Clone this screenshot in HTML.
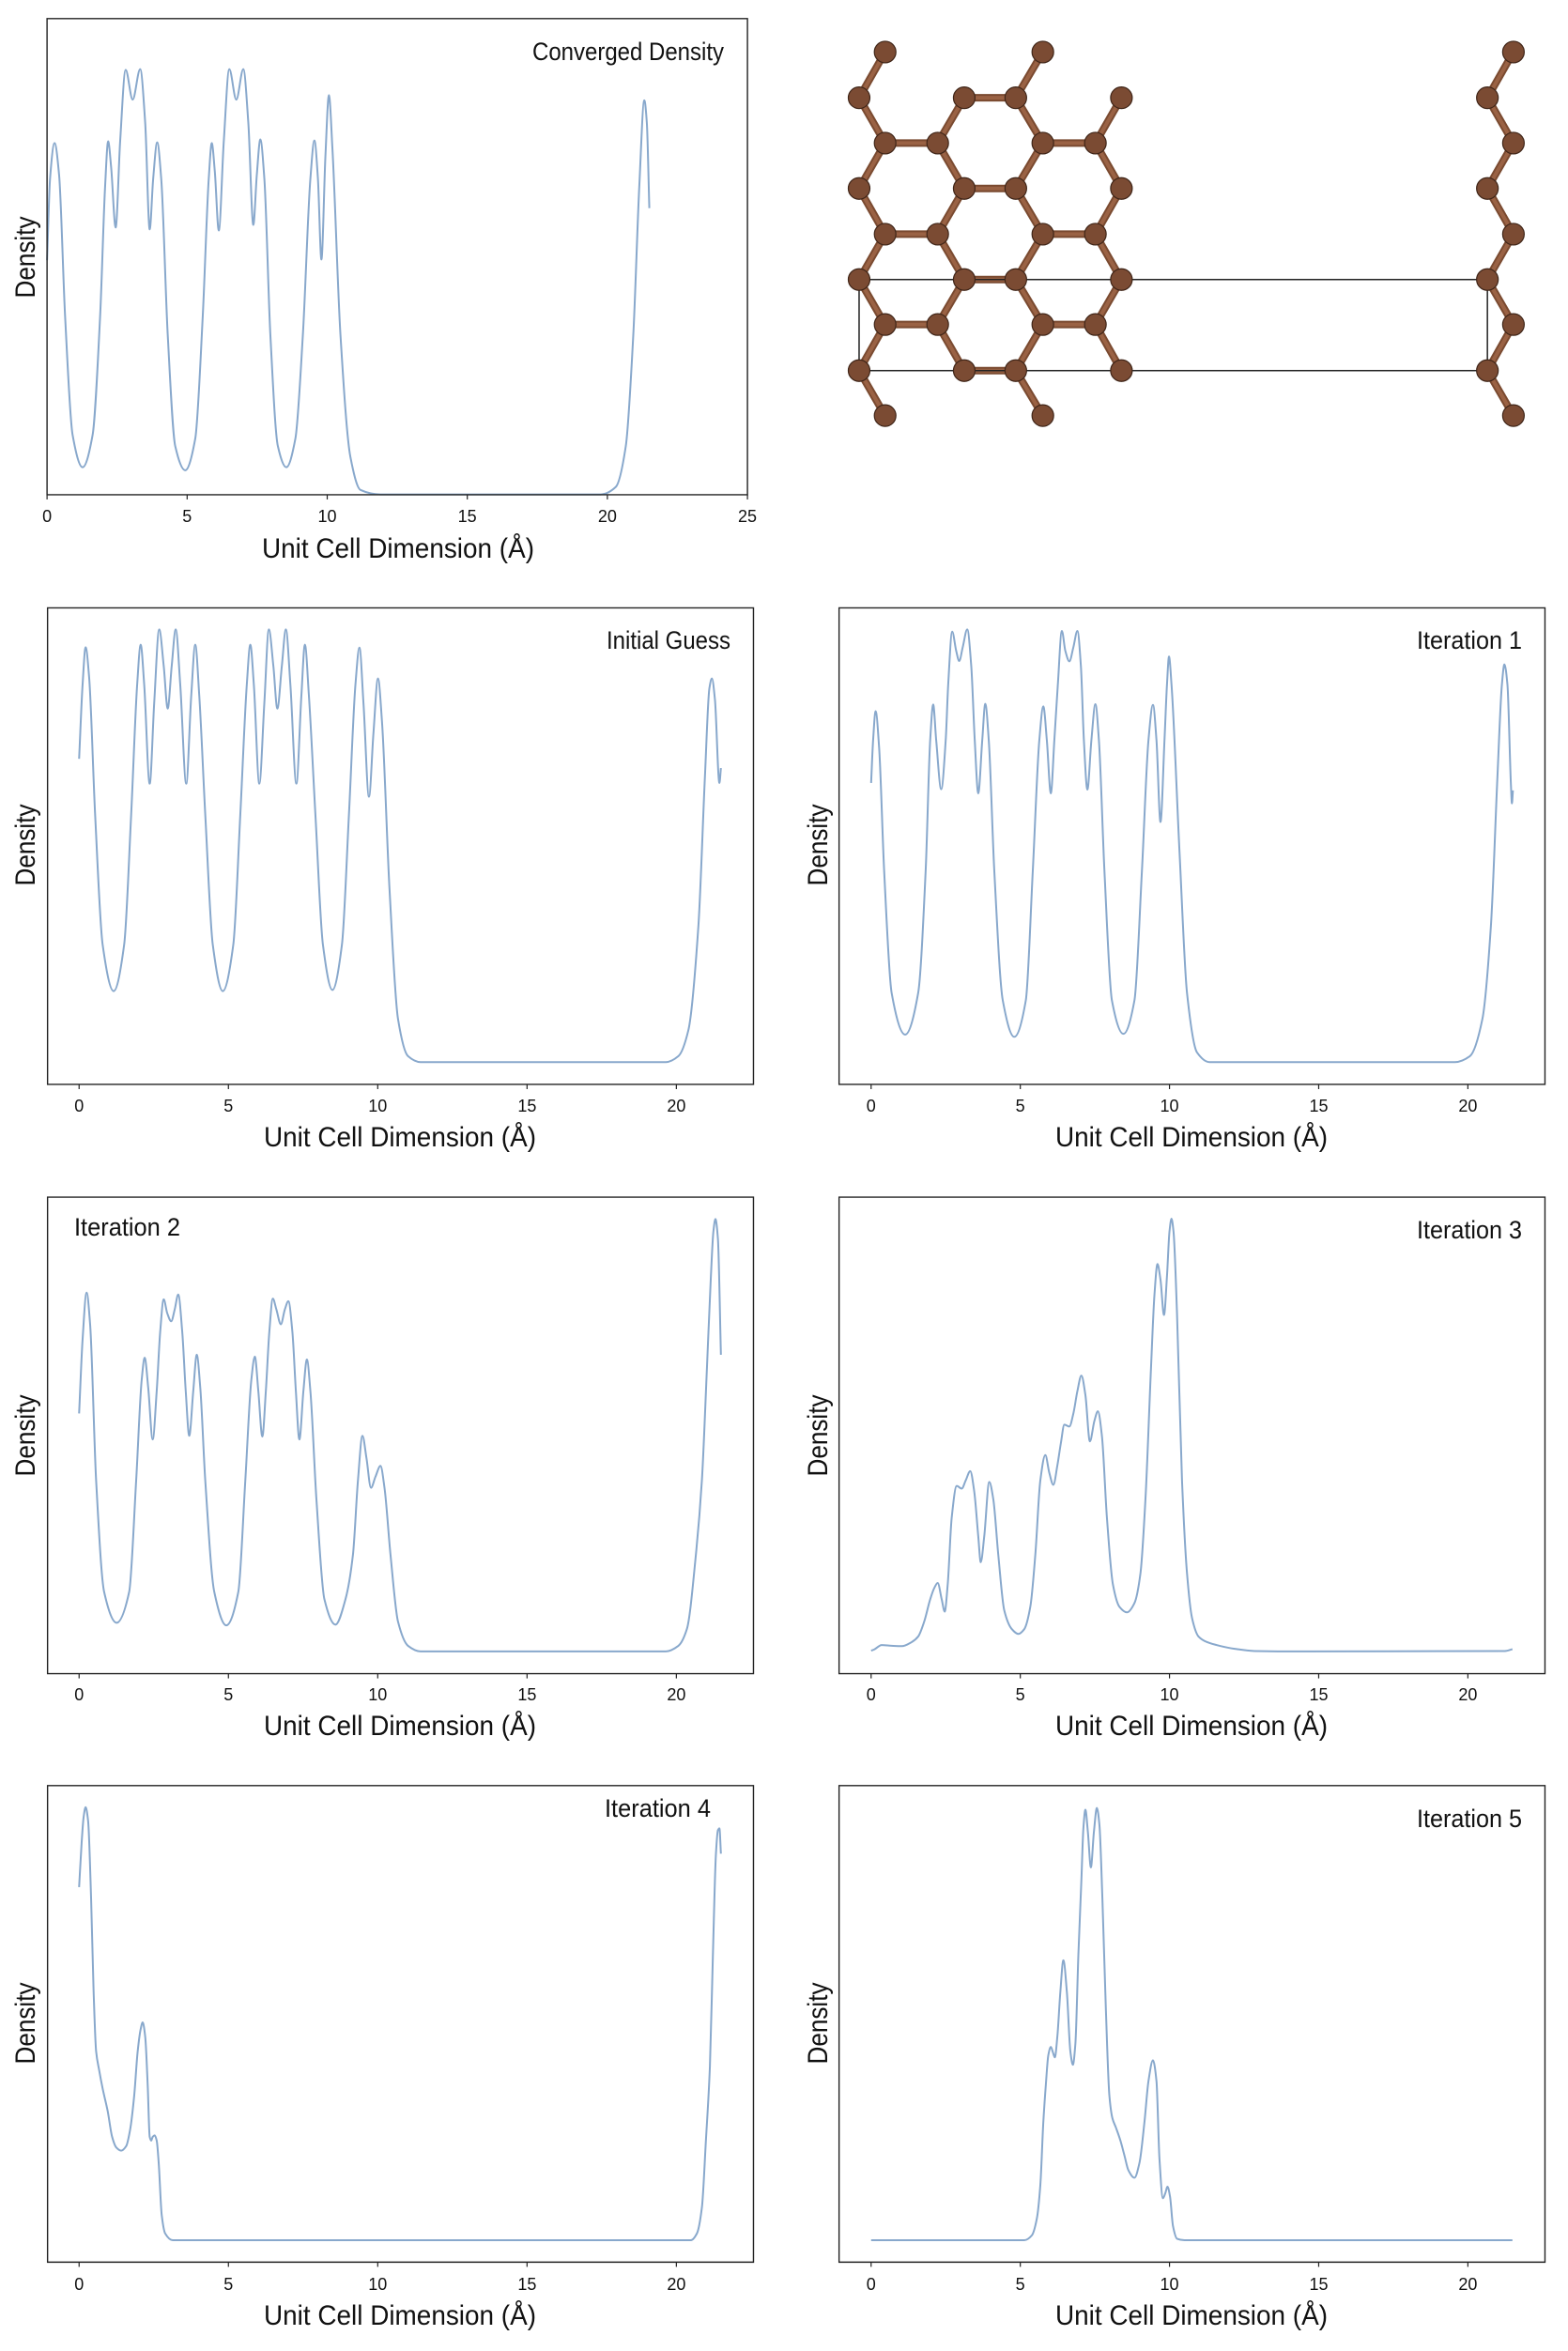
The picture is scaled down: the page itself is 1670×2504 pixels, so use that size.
<!DOCTYPE html>
<html><head><meta charset="utf-8"><style>
html,body{margin:0;padding:0;background:#fff}
svg{display:block}
text{font-family:"Liberation Sans",sans-serif;fill:#111}
</style></head><body>
<svg id="s" width="1670" height="2504" viewBox="0 0 1670 2504" xmlns="http://www.w3.org/2000/svg">
<rect width="1670" height="2504" fill="#fff"/>
<g id="g"></g>
<!-- titles -->
<text x="771" y="64" font-size="27" text-anchor="end" textLength="204" lengthAdjust="spacingAndGlyphs">Converged Density</text>
<text x="778" y="691" font-size="27" text-anchor="end" textLength="132" lengthAdjust="spacingAndGlyphs">Initial Guess</text>
<text x="1621" y="691" font-size="27" text-anchor="end" textLength="112" lengthAdjust="spacingAndGlyphs">Iteration 1</text>
<text x="79" y="1316" font-size="27" textLength="113" lengthAdjust="spacingAndGlyphs">Iteration 2</text>
<text x="1621" y="1319" font-size="27" text-anchor="end" textLength="112" lengthAdjust="spacingAndGlyphs">Iteration 3</text>
<text x="757" y="1935" font-size="27" text-anchor="end" textLength="113" lengthAdjust="spacingAndGlyphs">Iteration 4</text>
<text x="1621" y="1946" font-size="27" text-anchor="end" textLength="112" lengthAdjust="spacingAndGlyphs">Iteration 5</text>
<!-- x labels -->
<text x="424" y="594" font-size="30" text-anchor="middle" textLength="290" lengthAdjust="spacingAndGlyphs">Unit Cell Dimension (Å)</text>
<text x="426" y="1221" font-size="30" text-anchor="middle" textLength="290" lengthAdjust="spacingAndGlyphs">Unit Cell Dimension (Å)</text>
<text x="1269" y="1221" font-size="30" text-anchor="middle" textLength="290" lengthAdjust="spacingAndGlyphs">Unit Cell Dimension (Å)</text>
<text x="426" y="1848" font-size="30" text-anchor="middle" textLength="290" lengthAdjust="spacingAndGlyphs">Unit Cell Dimension (Å)</text>
<text x="1269" y="1848" font-size="30" text-anchor="middle" textLength="290" lengthAdjust="spacingAndGlyphs">Unit Cell Dimension (Å)</text>
<text x="426" y="2476" font-size="30" text-anchor="middle" textLength="290" lengthAdjust="spacingAndGlyphs">Unit Cell Dimension (Å)</text>
<text x="1269" y="2476" font-size="30" text-anchor="middle" textLength="290" lengthAdjust="spacingAndGlyphs">Unit Cell Dimension (Å)</text>
<!-- y labels -->
<text transform="translate(37,274) rotate(-90)" font-size="30" text-anchor="middle" textLength="87" lengthAdjust="spacingAndGlyphs">Density</text>
<text transform="translate(37,900) rotate(-90)" font-size="30" text-anchor="middle" textLength="87" lengthAdjust="spacingAndGlyphs">Density</text>
<text transform="translate(881,900) rotate(-90)" font-size="30" text-anchor="middle" textLength="87" lengthAdjust="spacingAndGlyphs">Density</text>
<text transform="translate(37,1529) rotate(-90)" font-size="30" text-anchor="middle" textLength="87" lengthAdjust="spacingAndGlyphs">Density</text>
<text transform="translate(881,1529) rotate(-90)" font-size="30" text-anchor="middle" textLength="87" lengthAdjust="spacingAndGlyphs">Density</text>
<text transform="translate(37,2155) rotate(-90)" font-size="30" text-anchor="middle" textLength="87" lengthAdjust="spacingAndGlyphs">Density</text>
<text transform="translate(881,2155) rotate(-90)" font-size="30" text-anchor="middle" textLength="87" lengthAdjust="spacingAndGlyphs">Density</text>
</svg>
<script>
var SX=835/1566, SY=620/1566, NS="http://www.w3.org/2000/svg";
var G=document.getElementById('g');
function el(t,a){var e=document.createElementNS(NS,t);for(var k in a)e.setAttribute(k,a[k]);return e;}
function P(s){return s.split(';').map(function(p){var q=p.trim().split(',');return [+q[0],+q[1]];});}
// monotone cubic (Fritsch-Carlson) in y(x)
function mono(pts){
  var n=pts.length,d=[],m=[],i;
  for(i=0;i<n-1;i++){var dx=pts[i+1][0]-pts[i][0];d.push((pts[i+1][1]-pts[i][1])/dx);}
  m[0]=d[0];m[n-1]=d[n-2];
  for(i=1;i<n-1;i++){ if(d[i-1]*d[i]<=0) m[i]=0; else { var h0=pts[i][0]-pts[i-1][0],h1=pts[i+1][0]-pts[i][0];
    var w1=2*h1+h0,w2=h1+2*h0; m[i]=(w1+w2)/(w1/d[i-1]+w2/d[i]); } }
  var s='M'+pts[0][0]+','+pts[0][1];
  for(i=0;i<n-1;i++){var h=pts[i+1][0]-pts[i][0];
    var c1x=pts[i][0]+h/3,c1y=pts[i][1]+m[i]*h/3,c2x=pts[i+1][0]-h/3,c2y=pts[i+1][1]-m[i+1]*h/3;
    s+='C'+c1x.toFixed(2)+','+c1y.toFixed(2)+' '+c2x.toFixed(2)+','+c2y.toFixed(2)+' '+pts[i+1][0]+','+pts[i+1][1];}
  return s;}
var panels=[
{o:[0,0],f:[94,50,1493,1331],t0:94,dt:279.8,n:6,ly:550,pts:"94,700;100,480;109,385;118,470;130,850;145,1170;165,1257;185,1170;200,850;210,500;216,380;222,450;231,612;240,380;251,188;265,268;280,186;290,330;299,617;306,480;314,383;322,480;335,900;350,1200;370,1265;390,1180;405,850;417,480;423,385;429,460;437,620;447,380;458,186;472,268;486,186;496,330;506,605;513,470;520,375;528,480;540,900;555,1200;572,1257;590,1180;605,900;620,480;628,378;635,480;642,698;650,420;657,256;664,400;680,900;700,1230;720,1318;760,1330;1200,1330;1230,1310;1250,1200;1265,900;1277,500;1287,270;1292,330;1297,560"},
{o:[0,630],f:[95,44,1505,1326],t0:158,dt:298.25,n:5,ly:1178,pts:"158,450;165,250;171,150;178,230;190,600;205,950;227,1075;248,950;262,600;274,250;281,143;288,250;299,517;308,300;318,102;327,200;335,315;343,200;351,102;360,250;372,517;382,280;390,143;398,280;410,600;425,950;445,1075;466,950;480,600;493,250;500,143;507,250;518,517;528,300;537,102;546,200;554,315;563,200;571,102;580,250;592,517;602,280;609,143;617,280;630,600;645,950;664,1072;683,950;697,600;710,250;718,151;726,300;737,552;746,380;755,234;763,350;778,800;795,1150;815,1250;840,1266;1330,1266;1355,1250;1375,1180;1395,900;1408,500;1417,260;1422,234;1428,290;1437,515;1440,475"},
{o:[835,630],f:[110,44,1520,1326],t0:174,dt:298,n:5,ly:1178,pts:"174,515;178,400;183,322;190,420;200,750;215,1080;242,1192;268,1080;283,750;292,400;298,304;304,400;314,532;323,400;328,250;336,108;344,160;350,187;357,150;366,102;374,200;381,400;388,543;396,400;402,302;409,400;420,750;437,1100;460,1198;483,1100;497,750;510,400;518,309;525,400;533,543;540,400;547,250;555,106;562,160;570,188;578,150;586,106;593,200;599,400;606,533;614,400;622,303;629,400;640,750;655,1100;678,1190;700,1100;715,750;728,400;737,305;744,400;752,620;760,400;765,250;769,175;774,250;790,700;805,1080;825,1240;850,1266;1340,1266;1370,1250;1395,1150;1412,900;1425,500;1434,250;1439,196;1445,250;1452,520;1454,570;1456,535"},
{o:[0,1260],f:[95,38,1505,1320],t0:158,dt:298.25,n:5,ly:1805,pts:"158,620;165,420;173,295;180,380;192,800;208,1100;233,1183;258,1100;272,800;283,530;289,470;296,550;305,690;313,560;320,400;327,313;334,350;342,372;349,340;356,300;364,400;371,560;378,680;386,560;393,462;400,550;410,800;428,1100;452,1190;476,1100;490,800;502,530;509,467;516,560;524,682;531,560;538,400;545,311;552,340;561,380;569,340;576,318;584,400;591,560;598,690;606,560;613,475;620,560;632,850;648,1120;670,1188;690,1120;705,1000;715,800;724,680;732,740;741,820;750,790;760,761;768,820;780,1000;795,1180;815,1245;840,1260;1330,1260;1355,1245;1372,1200;1390,1000;1402,800;1412,500;1420,250;1425,130;1429,97;1434,150;1440,462"},
{o:[835,1260],f:[110,38,1520,1320],t0:174,dt:298,n:5,ly:1805,pts:"174,1258;180,1255;195,1243;215,1245;235,1246;255,1235;268,1220;280,1180;292,1120;300,1090;307,1076;315,1120;321,1153;327,1080;335,900;345,815;355,822;363,800;372,775;380,830;388,950;393,1020;400,950;410,804;418,850;428,1000;440,1150;455,1200;468,1213;480,1200;492,1140;502,1000;512,800;522,732;530,780;538,812;546,760;553,700;560,650;570,655;578,620;586,560;594,518;602,570;611,695;620,640;627,614;635,680;645,900;657,1080;670,1140;685,1155;700,1130;712,1050;722,850;733,500;740,300;746,218;752,260;759,355;765,250;770,130;774,96;778,130;785,350;795,800;805,1050;815,1170;828,1220;845,1235;870,1245;900,1253;940,1259;1000,1260;1440,1259;1455,1254"},
{o:[0,1884],f:[95,45,1505,1327],t0:158,dt:298.25,n:5,ly:2433,pts:"158,318;163,200;167,130;171,103;176,140;182,350;187,600;192,760;198,810;205,860;215,920;224,990;232,1018;242,1027;252,1015;260,970;268,880;275,760;281,700;285,682;290,720;295,850;299,990;302,1000;305,990;309,986;313,1000;317,1060;323,1200;330,1250;345,1268;1380,1268;1392,1250;1402,1180;1410,1000;1418,800;1424,500;1430,230;1434,165;1437,160;1440,228"},
{o:[835,1884],f:[110,45,1520,1327],t0:174,dt:298,n:5,ly:2433,pts:"174,1268;480,1268;495,1255;505,1210;512,1120;518,950;523,850;528,770;533,748;537,762;541,776;546,720;552,600;558,515;565,600;572,760;577,796;582,740;588,500;594,300;598,160;602,110;607,170;613,265;619,170;625,105;630,150;636,350;643,650;650,880;656,940;663,965;672,1000;680,1040;688,1080;700,1100;710,1060;720,950;728,840;737,784;744,840;750,1050;757,1155;762,1140;766,1124;771,1150;777,1230;785,1264;800,1268;1455,1268"}
];
panels.forEach(function(p){
  var g=el('g',{transform:'translate('+p.o[0]+','+p.o[1]+') scale('+SX+','+SY+')'});
  g.appendChild(el('path',{d:mono(P(p.pts)),fill:'none',stroke:'#88a8cc','stroke-width':'2','vector-effect':'non-scaling-stroke','stroke-linejoin':'round'}));
  var f=p.f;
  g.appendChild(el('rect',{x:f[0],y:f[1],width:f[2]-f[0],height:f[3]-f[1],fill:'none',stroke:'#222','stroke-width':'1.4','vector-effect':'non-scaling-stroke'}));
  G.appendChild(g);
  var by=p.o[1]+f[3]*SY;
  for(var i=0;i<p.n;i++){
    var x=p.o[0]+(p.t0+i*p.dt)*SX;
    G.appendChild(el('line',{x1:x,y1:by,x2:x,y2:by+5,stroke:'#222','stroke-width':'1.2'}));
    var t=el('text',{x:x,y:p.ly+6,'font-size':'18','text-anchor':'middle'});t.textContent=String(i*5);G.appendChild(t);
  }
});
// molecule
var rows=[140,263,385,507,630,752,873,997,1118];
var cols=[[202,517,1457],[150,360,463,674,1405],[202,307,517,622,1457],[150,360,463,674,1405],[202,307,517,622,1457],[150,360,463,674,1405],[202,307,517,622,1457],[150,360,463,674,1405],[202,517,1457]];
function R(zx,zy){return [835+zx*SX, zy*SY];}
var mg=el('g',{});
var atoms=[];
rows.forEach(function(y,ri){cols[ri].forEach(function(x){atoms.push([x,y,ri]);});});
atoms.forEach(function(a){atoms.forEach(function(b){
  if(a===b)return;
  var dx=b[0]-a[0];
  if(b[2]===a[2]+1 && Math.abs(Math.abs(dx)-52)<6) bond(a,b);
  if(b[2]===a[2] && dx>90 && dx<115) bond(a,b);
});});
function bond(a,b){var p=R(a[0],a[1]),q=R(b[0],b[1]);
  mg.appendChild(el('line',{x1:p[0],y1:p[1],x2:q[0],y2:q[1],stroke:'#7a4a30','stroke-width':'8'}));
  mg.appendChild(el('line',{x1:p[0],y1:p[1],x2:q[0],y2:q[1],stroke:'#9a6244','stroke-width':'4'}));}
G.appendChild(mg);
var c1=R(150,752),c2=R(1405,997);
G.appendChild(el('rect',{x:c1[0],y:c1[1],width:c2[0]-c1[0],height:c2[1]-c1[1],fill:'none',stroke:'#222','stroke-width':'1.5'}));
atoms.forEach(function(a){var p=R(a[0],a[1]);
  G.appendChild(el('circle',{cx:p[0],cy:p[1],r:'11.5',fill:'#7b4b33',stroke:'#3f2518','stroke-width':'1.2'}));});
</script>
</body></html>
